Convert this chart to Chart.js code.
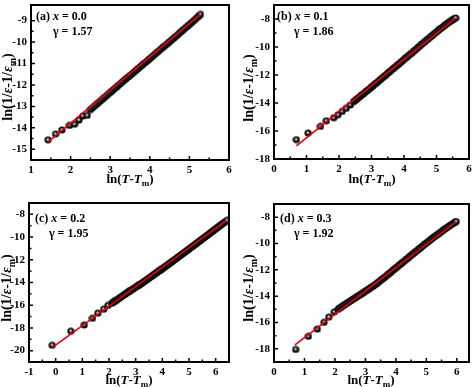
<!DOCTYPE html>
<html><head><meta charset="utf-8">
<script src="https://cdn.jsdelivr.net/npm/chart.js@4.4.1/dist/chart.umd.min.js"></script>
<style>
html,body{margin:0;padding:0;background:#fff;}
#wrap{position:relative;width:474px;height:387px;overflow:hidden;background:#fff;}
canvas{position:absolute;left:0;top:0;}
</style></head><body>
<div id="wrap">
<canvas id="ca" width="474" height="387"></canvas>
<canvas id="cb" width="474" height="387"></canvas>
<canvas id="cc" width="474" height="387"></canvas>
<canvas id="cd" width="474" height="387"></canvas>
</div>
<script>
// ---------- DATA ----------
// panel (a) x = 0.0
const xA = [1.43,1.62,1.78,1.97,2.10,2.21,2.31,2.42,
 2.50,2.55,2.60,2.65,2.70,2.75,2.80,2.85,2.90,2.95,3.00,3.05,3.10,3.15,3.20,3.25,3.30,3.35,3.40,3.45,3.50,3.55,3.60,3.65,3.70,3.75,3.80,3.85,3.90,3.95,
 4.00,4.05,4.10,4.15,4.20,4.25,4.30,4.35,4.40,4.45,4.50,4.55,4.60,4.65,4.70,4.75,4.80,4.85,4.90,4.95,5.00,5.05,5.10,5.15,5.20,5.25,5.28];
const yA = [-14.56,-14.29,-14.10,-13.89,-13.83,-13.64,-13.45,-13.42,
 -13.15,-13.07,-12.99,-12.91,-12.83,-12.75,-12.67,-12.59,-12.51,-12.43,-12.35,-12.27,-12.19,-12.11,-12.03,-11.95,-11.87,-11.79,-11.71,-11.63,-11.56,-11.48,-11.40,-11.32,-11.24,-11.16,-11.08,-11.00,-10.93,-10.85,
 -10.77,-10.69,-10.61,-10.53,-10.45,-10.37,-10.29,-10.21,-10.14,-10.06,-9.98,-9.90,-9.82,-9.74,-9.66,-9.58,-9.50,-9.42,-9.34,-9.26,-9.18,-9.10,-9.02,-8.94,-8.85,-8.77,-8.71];
const fitXA = [1.43, 5.28];
const fitYA = [-14.67, -8.71];

// panel (b) x = 0.1
const xB = [0.69,1.05,1.43,1.61,1.84,1.97,2.10,2.22,2.35,
 2.45,2.50,2.55,2.60,2.65,2.70,2.75,2.80,2.85,2.90,2.95,3.00,3.05,3.10,3.15,3.20,3.25,3.30,3.35,3.40,3.45,3.50,3.55,3.60,3.65,3.70,3.75,3.80,3.85,3.90,3.95,
 4.00,4.05,4.10,4.15,4.20,4.25,4.30,4.35,4.40,4.45,4.50,4.55,4.60,4.65,4.70,4.75,4.80,4.85,4.90,4.95,5.00,5.05,5.10,5.15,5.20,5.25,5.30,5.35,5.40,5.45,5.50,5.55,5.59];
const yB = [-16.62,-16.15,-15.67,-15.27,-15.05,-14.84,-14.60,-14.38,-14.14,
 -13.91,-13.81,-13.72,-13.62,-13.53,-13.43,-13.34,-13.24,-13.15,-13.05,-12.96,-12.86,-12.76,-12.66,-12.57,-12.47,-12.37,-12.27,-12.17,-12.08,-11.98,-11.87,-11.77,-11.68,-11.58,-11.48,-11.38,-11.29,-11.19,-11.09,-10.99,
 -10.89,-10.79,-10.69,-10.59,-10.50,-10.40,-10.30,-10.20,-10.10,-10.00,-9.89,-9.79,-9.69,-9.60,-9.50,-9.40,-9.31,-9.21,-9.11,-9.01,-8.92,-8.82,-8.73,-8.64,-8.55,-8.46,-8.37,-8.28,-8.20,-8.12,-8.04,-7.97,-7.93];
const fitXB = [0.69, 5.59];
const fitYB = [-17.06, -7.93];

// panel (c) x = 0.2
const xC = [-0.13,0.57,1.07,1.38,1.58,1.80,1.96,
 2.10,2.15,2.20,2.25,2.30,2.35,2.40,2.45,2.50,2.55,2.60,2.65,2.70,2.75,2.80,2.85,2.90,2.95,3.00,3.05,3.10,3.15,3.20,3.25,3.30,3.35,3.40,3.45,3.50,3.55,3.60,3.65,3.70,3.75,3.80,3.85,3.90,3.95,
 4.00,4.05,4.10,4.15,4.20,4.25,4.30,4.35,4.40,4.45,4.50,4.55,4.60,4.65,4.70,4.75,4.80,4.85,4.90,4.95,5.00,5.05,5.10,5.15,5.20,5.25,5.30,5.35,5.40,5.45,5.50,5.55,5.60,5.65,5.70,5.75,5.80,5.85,5.90,5.95,6.00,6.05,6.10,6.15,6.20,6.25,6.30,6.36,6.42];
const yC = [-19.53,-18.29,-17.74,-17.15,-16.70,-16.35,-16.02,
 -15.84,-15.75,-15.67,-15.59,-15.51,-15.43,-15.35,-15.27,-15.19,-15.11,-15.03,-14.95,-14.87,-14.79,-14.71,-14.64,-14.56,-14.49,-14.41,-14.34,-14.26,-14.18,-14.10,-14.02,-13.94,-13.86,-13.78,-13.70,-13.61,-13.53,-13.45,-13.37,-13.28,-13.20,-13.11,-13.03,-12.94,-12.86,
 -12.77,-12.69,-12.60,-12.52,-12.43,-12.35,-12.26,-12.18,-12.09,-12.01,-11.92,-11.83,-11.74,-11.66,-11.57,-11.49,-11.40,-11.31,-11.22,-11.14,-11.05,-10.96,-10.87,-10.79,-10.70,-10.61,-10.52,-10.43,-10.34,-10.25,-10.16,-10.08,-9.99,-9.90,-9.81,-9.72,-9.63,-9.54,-9.45,-9.36,-9.27,-9.18,-9.09,-9.00,-8.91,-8.83,-8.74,-8.64,-8.53];
const fitXC = [-0.13, 6.42];
const fitYC = [-19.74, -8.53];

// panel (d) x = 0.3
const xD = [0.71,1.13,1.42,1.64,1.80,1.98,
 2.10,2.15,2.20,2.25,2.30,2.35,2.40,2.45,2.50,2.55,2.60,2.65,2.70,2.75,2.80,2.85,2.90,2.95,3.00,3.05,3.10,3.15,3.20,3.25,3.30,3.35,3.40,3.45,3.50,3.55,3.60,3.65,3.70,3.75,3.80,3.85,3.90,3.95,
 4.00,4.05,4.10,4.15,4.20,4.25,4.30,4.35,4.40,4.45,4.50,4.55,4.60,4.65,4.70,4.75,4.80,4.85,4.90,4.95,5.00,5.05,5.10,5.15,5.20,5.25,5.30,5.35,5.40,5.45,5.50,5.55,5.60,5.65,5.70,5.75,5.80,5.85,5.90,5.94,5.98];
const yD = [-18.05,-17.05,-16.50,-15.99,-15.59,-15.19,
 -15.00,-14.92,-14.84,-14.76,-14.68,-14.60,-14.52,-14.45,-14.37,-14.30,-14.22,-14.15,-14.08,-14.00,-13.93,-13.86,-13.79,-13.71,-13.63,-13.56,-13.48,-13.40,-13.32,-13.24,-13.16,-13.07,-12.98,-12.89,-12.80,-12.71,-12.62,-12.53,-12.43,-12.34,-12.24,-12.14,-12.04,-11.95,
 -11.85,-11.76,-11.66,-11.57,-11.47,-11.38,-11.28,-11.19,-11.09,-10.99,-10.89,-10.80,-10.70,-10.61,-10.52,-10.43,-10.33,-10.24,-10.14,-10.05,-9.96,-9.87,-9.78,-9.69,-9.60,-9.51,-9.42,-9.34,-9.25,-9.17,-9.08,-9.00,-8.91,-8.83,-8.75,-8.67,-8.59,-8.52,-8.44,-8.38,-8.33];
const fitXD = [0.69, 5.98];
const fitYD = [-17.70, -8.33];

// tick labels
const xTicksA = [1,2,3,4,5,6];
const yTicksA = [-9,-10,-11,-12,-13,-14,-15];
const xTicksB = [0,1,2,3,4,5,6];
const yTicksB = [-8,-10,-12,-14,-16,-18];
const xTicksC = [-1,0,1,2,3,4,5,6];
const yTicksC = [-8,-10,-12,-14,-16,-18,-20];
const xTicksD = [0,1,2,3,4,5,6];
const yTicksD = [-8,-10,-12,-14,-16,-18];

// panel texts
const panelTags = ['(a)','(b)','(c)','(d)'];
const compositions = ['0.0','0.1','0.2','0.3'];
const gammas = ['1.57','1.86','1.95','1.92'];

// ---------- STYLE / LAYOUT ----------
const SERIF = '"Liberation Serif", "Times New Roman", serif';
const RED = '#e3000f';
const panels = [
  {id:'ca', px:xA, py:yA, fx:fitXA, fy:fitYA, xr:[1,6], yr:[-15.5,-8.27], xt:xTicksA, yt:yTicksA,
   area:{l:31,r:229,t:1,b:160}, ann:[36,20,53,35], yT:[12,87], xT:[130,183]},
  {id:'cb', px:xB, py:yB, fx:fitXB, fy:fitYB, xr:[0,6], yr:[-18,-7], xt:xTicksB, yt:yTicksB,
   area:{l:274,r:470,t:1,b:159}, ann:[277,20,294,35], yT:[253,88], xT:[372,183]},
  {id:'cc', px:xC, py:yC, fx:fitXC, fy:fitYC, xr:[-1,6.5], yr:[-21,-7], xt:xTicksC, yt:yTicksC,
   area:{l:29,r:229,t:203,b:362}, ann:[35,222,49,237], yT:[11,288], xT:[129,384]},
  {id:'cd', px:xD, py:yD, fx:fitXD, fy:fitYD, xr:[0,6.4], yr:[-19,-7], xt:xTicksD, yt:yTicksD,
   area:{l:274,r:469,t:204,b:362}, ann:[280,222,294,237], yT:[253,288], xT:[371,384]}
];

// sphere-like marker: dark ball with small light centre
function makeMarker(){
  const c = document.createElement('canvas'); c.width = 8; c.height = 8;
  const g = c.getContext('2d');
  const grd = g.createRadialGradient(3.6,3.4,0,4,4,3.8);
  grd.addColorStop(0,'#f2f2f2'); grd.addColorStop(0.22,'#b0b0b0');
  grd.addColorStop(0.45,'#1c1c1c'); grd.addColorStop(1,'#000000');
  g.fillStyle = grd; g.beginPath(); g.arc(4,4,3.6,0,Math.PI*2); g.fill();
  return c;
}
const marker = makeMarker();

function fontOf(s, size){
  if (s === 'i') return `italic bold ${size}px ${SERIF}`;
  if (s === 's') return `bold ${Math.round(size*0.72)}px ${SERIF}`;
  return `bold ${size}px ${SERIF}`;
}
function drawRich(ctx, segs, x, y, size, align){
  const parts = segs.map(([t,s]) => { ctx.font = fontOf(s,size); return {t, s, f: ctx.font, w: ctx.measureText(t).width}; });
  const total = parts.reduce((a,p)=>a+p.w,0);
  let cx = align === 'left' ? x : x - total/2;
  ctx.textBaseline = 'alphabetic'; ctx.textAlign = 'left'; ctx.fillStyle = '#000';
  for (const p of parts){ ctx.font = p.f; ctx.fillText(p.t, cx, y + (p.s==='s' ? size*0.25 : 0)); cx += p.w; }
}

panels.forEach((P, idx) => {
  const pts = P.px.map((x,i)=>({x, y:P.py[i]}));
  const fit = P.fx.map((x,i)=>({x, y:P.fy[i]}));
  const yW = 36, xH = 20;
  const deco = {
    id:'deco'+idx,
    afterDatasetsDraw(chart){
      const ctx = chart.ctx, a = chart.chartArea, xs = chart.scales.x, ys = chart.scales.y;
      ctx.save();
      ctx.strokeStyle = '#000'; ctx.lineWidth = 1.5;
      const xt = P.xt, yt = P.yt;
      ctx.beginPath();
      xt.forEach((v,i) => {
        const px = xs.getPixelForValue(v);
        ctx.moveTo(px, a.bottom); ctx.lineTo(px, a.bottom-4);
        if (i < xt.length-1){ const m = xs.getPixelForValue((v+xt[i+1])/2); ctx.moveTo(m, a.bottom); ctx.lineTo(m, a.bottom-2.5); }
      });
      yt.forEach((v,i) => {
        const py = ys.getPixelForValue(v);
        ctx.moveTo(a.left, py); ctx.lineTo(a.left+4, py);
        if (i < yt.length-1){ const m = ys.getPixelForValue((v+yt[i+1])/2); ctx.moveTo(a.left, m); ctx.lineTo(a.left+2.5, m); }
      });
      ctx.stroke();
      ctx.lineWidth = 2;
      ctx.strokeRect(a.left, a.top, a.right-a.left, a.bottom-a.top);
      drawRich(ctx, [[panelTags[idx]+' ','n'],['x','i'],[' = '+compositions[idx],'n']], P.ann[0], P.ann[1], 12, 'left');
      drawRich(ctx, [['\u03b3 = '+gammas[idx],'n']], P.ann[2], P.ann[3], 12, 'left');
      drawRich(ctx, [['ln(','n'],['T','i'],['-','n'],['T','i'],['m','s'],[')','n']], P.xT[0], P.xT[1], 13, 'center');
      ctx.translate(P.yT[0], P.yT[1]); ctx.rotate(-Math.PI/2);
      drawRich(ctx, [['ln(1/','n'],['\u03b5','i'],['-1/','n'],['\u03b5','i'],['m','s'],[')','n']], 0, 0, 14, 'center');
      ctx.restore();
    }
  };
  new Chart(document.getElementById(P.id), {
    type:'scatter',
    data:{datasets:[
      {type:'line', data:fit, borderColor:RED, borderWidth:1.6, pointRadius:0, fill:false, order:0, tension:0},
      {type:'scatter', data:pts, pointStyle:marker, pointRadius:3.5, order:1}
    ]},
    options:{
      responsive:false, animation:false, devicePixelRatio:1, events:[],
      layout:{padding:{left:P.area.l-yW, right:474-P.area.r, top:P.area.t, bottom:387-P.area.b-xH}},
      plugins:{legend:{display:false}, tooltip:{enabled:false}},
      scales:{
        x:{type:'linear', min:P.xr[0], max:P.xr[1],
           grid:{display:false, drawTicks:false}, border:{display:false},
           ticks:{color:'#000', padding:4, font:{family:SERIF, weight:'bold', size:11}, callback:(v)=>String(v)},
           afterBuildTicks:(s)=>{ s.ticks = P.xt.map(v=>({value:v})); },
           afterFit:(s)=>{ s.height = xH; s.paddingLeft=0; s.paddingRight=0; s.paddingTop=0; s.paddingBottom=0; }},
        y:{type:'linear', min:P.yr[0], max:P.yr[1],
           grid:{display:false, drawTicks:false}, border:{display:false},
           ticks:{color:'#000', padding:4, font:{family:SERIF, weight:'bold', size:11}, callback:(v)=>String(v)},
           afterBuildTicks:(s)=>{ s.ticks = P.yt.map(v=>({value:v})); },
           afterFit:(s)=>{ s.width = yW; s.paddingLeft=0; s.paddingRight=0; s.paddingTop=0; s.paddingBottom=0; }}
      }
    },
    plugins:[deco]
  });
});
</script>
</body></html>
